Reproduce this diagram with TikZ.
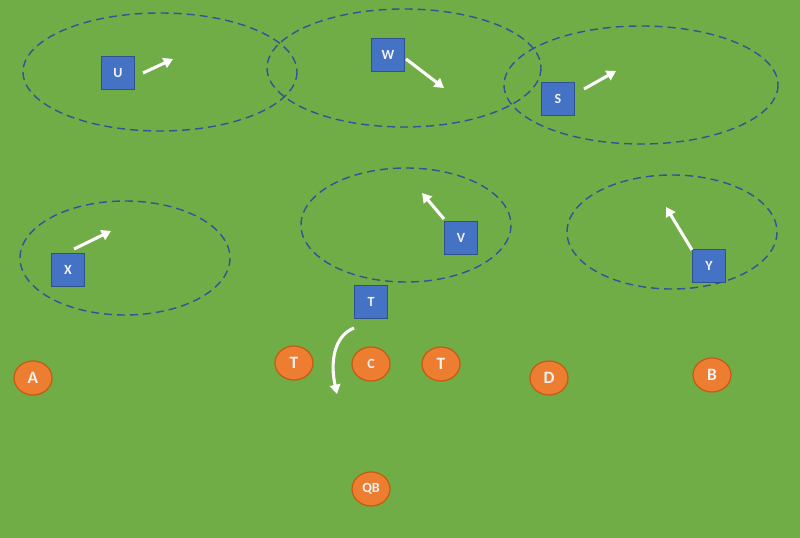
\documentclass[tikz,border=0pt]{standalone}
\usepackage{fontspec}
\setmainfont{Carlito}
\usetikzlibrary{arrows.meta,shapes.geometric}
\definecolor{field}{HTML}{70AD47}
\definecolor{zone}{HTML}{2F5597}
\definecolor{boxfill}{HTML}{4472C4}
\definecolor{boxline}{HTML}{2F528F}
\definecolor{ofill}{HTML}{ED7D31}
\definecolor{oline}{HTML}{C55A11}
\definecolor{txt}{HTML}{F2F2F2}
\tikzset{
  zonearea/.style={draw=zone, dash pattern=on 6pt off 3.75pt, line width=1.05pt},
  defender/.style={draw=boxline, fill=boxfill, line width=0.9pt, minimum width=24.75pt, minimum height=24.75pt, inner sep=0pt, text=txt, font=\fontsize{10.5}{11}\selectfont\bfseries},
  offense/.style={ellipse, draw=oline, fill=ofill, line width=0.9pt, minimum width=28.5pt, minimum height=25.5pt, inner sep=0pt, text=txt, font=\fontsize{13}{14}\selectfont\bfseries},
  small/.style={font=\fontsize{10.5}{11}\selectfont\bfseries},
  move/.style={draw=white, line width=2.3pt, -{Triangle[length=7pt,width=8pt]}}
}
\begin{document}
\begin{tikzpicture}[x=0.75pt,y=-0.75pt]
\fill[field] (0,0) rectangle (800,538);
\useasboundingbox (0,0) rectangle (800,538);
% zones
\draw[zonearea] (160,72) ellipse [x radius=137, y radius=59];
\draw[zonearea] (404,68) ellipse [x radius=137, y radius=59];
\draw[zonearea] (641,85) ellipse [x radius=137, y radius=59];
\draw[zonearea] (406,225) ellipse [x radius=105, y radius=57];
\draw[zonearea] (125,258) ellipse [x radius=105, y radius=57];
\draw[zonearea] (672,232) ellipse [x radius=105, y radius=57];
% defenders
\node[defender] (U) at (118,73) {U};
\node[defender] (W) at (388,55) {W};
\node[defender] (S) at (558,99) {S};
\node[defender] (V) at (461,238) {V};
\node[defender] (X) at (68,270) {X};
\node[defender] (Y) at (709,266) {Y};
\node[defender] (Tt) at (371,302) {T};
% offense
\node[offense] (A) at (33,378) {A};
\node[offense] (TL) at (294,363) {T};
\node[offense, small] (C) at (371,364) {C};
\node[offense] (TR) at (441,364) {T};
\node[offense] (D) at (549,378) {D};
\node[offense] (B) at (712,375) {B};
\node[offense, small] (QB) at (371,489) {QB};
% movement targets
\coordinate (Uf) at (143,73); \coordinate (Ue) at (173,59);
\coordinate (Wf) at (406,59); \coordinate (We) at (444,88);
\coordinate (Sf) at (584,89); \coordinate (Se) at (616,71);
\coordinate (Vf) at (444,219); \coordinate (Ve) at (422,193);
\coordinate (Xf) at (74,249); \coordinate (Xe) at (111,231);
\coordinate (Yf) at (692,250); \coordinate (Ye) at (666,207);
\coordinate (Tf) at (354,328); \coordinate (Te) at (337,394);
\draw[move] (Uf) -- (Ue);
\draw[move] (Wf) -- (We);
\draw[move] (Sf) -- (Se);
\draw[move] (Vf) -- (Ve);
\draw[move] (Xf) -- (Xe);
\draw[move] (Yf) -- (Ye);
\draw[move] (Tf) .. controls (334,336) and (330,362) .. (Te);
\end{tikzpicture}
\end{document}
